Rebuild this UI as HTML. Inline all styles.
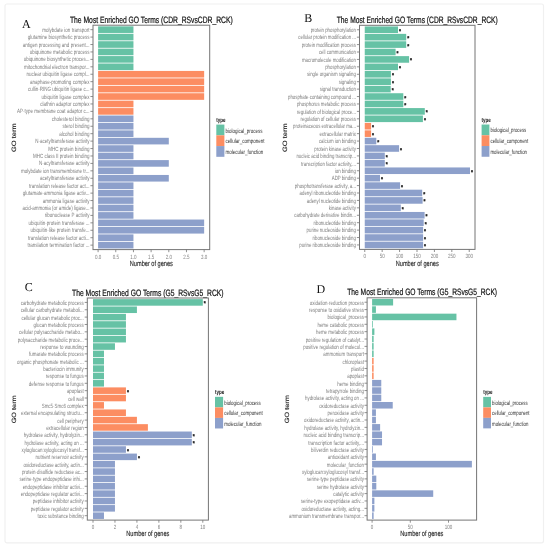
<!DOCTYPE html>
<html><head><meta charset="utf-8"><title>The Most Enriched GO Terms</title>
<style>
html,body{margin:0;padding:0;background:#fff;}
svg{display:block;font-family:"Liberation Sans",sans-serif;text-rendering:geometricPrecision;filter:blur(0.3px);}
</style></head>
<body>
<svg width="550" height="549" viewBox="0 0 550 549">
<rect x="0" y="0" width="550" height="549" fill="#fff"/>
<rect x="5" y="4" width="538.5" height="538.8" rx="2" ry="2" fill="none" stroke="#f0f0f0" stroke-width="1.2"/>
<g id="panelA">
<text transform="translate(22.00 27.80) scale(1 1)" font-size="12" font-family="'Liberation Serif',serif" fill="#111">A</text>
<text transform="translate(151.35 22.70) scale(0.735 1)" font-size="9.2" text-anchor="middle" stroke="#111" stroke-width="0.22" fill="#111">The Most Enriched GO Terms (CDR_RSvsCDR_RCK)</text>
<rect x="98.10" y="26.35" width="35.35" height="6.61" fill="#66c2a5"/>
<line x1="90.40" x2="93.00" y1="29.66" y2="29.66" stroke="#757575" stroke-width="0.8"/>
<text transform="translate(89.40 31.71) scale(0.735 1)" font-size="6.13" text-anchor="end" fill="#808080">molybdate ion transport</text>
<rect x="98.10" y="33.78" width="35.35" height="6.61" fill="#66c2a5"/>
<line x1="90.40" x2="93.00" y1="37.09" y2="37.09" stroke="#757575" stroke-width="0.8"/>
<text transform="translate(89.40 39.14) scale(0.735 1)" font-size="6.13" text-anchor="end" fill="#808080">glutamine biosynthetic process</text>
<rect x="98.10" y="41.21" width="35.35" height="6.61" fill="#66c2a5"/>
<line x1="90.40" x2="93.00" y1="44.52" y2="44.52" stroke="#757575" stroke-width="0.8"/>
<text transform="translate(89.40 46.57) scale(0.735 1)" font-size="6.13" text-anchor="end" fill="#808080">antigen processing and present...</text>
<rect x="98.10" y="48.64" width="35.35" height="6.61" fill="#66c2a5"/>
<line x1="90.40" x2="93.00" y1="51.95" y2="51.95" stroke="#757575" stroke-width="0.8"/>
<text transform="translate(89.40 54.00) scale(0.735 1)" font-size="6.13" text-anchor="end" fill="#808080">ubiquinone metabolic process</text>
<rect x="98.10" y="56.07" width="35.35" height="6.61" fill="#66c2a5"/>
<line x1="90.40" x2="93.00" y1="59.38" y2="59.38" stroke="#757575" stroke-width="0.8"/>
<text transform="translate(89.40 61.43) scale(0.735 1)" font-size="6.13" text-anchor="end" fill="#808080">ubiquinone biosynthetic proces...</text>
<rect x="98.10" y="63.50" width="35.35" height="6.61" fill="#66c2a5"/>
<line x1="90.40" x2="93.00" y1="66.81" y2="66.81" stroke="#757575" stroke-width="0.8"/>
<text transform="translate(89.40 68.86) scale(0.735 1)" font-size="6.13" text-anchor="end" fill="#808080">mitochondrial electron transpor...</text>
<rect x="98.10" y="70.93" width="106.05" height="6.61" fill="#fc8d62"/>
<line x1="90.40" x2="93.00" y1="74.24" y2="74.24" stroke="#757575" stroke-width="0.8"/>
<text transform="translate(89.40 76.29) scale(0.735 1)" font-size="6.13" text-anchor="end" fill="#808080">nuclear ubiquitin ligase compl...</text>
<rect x="98.10" y="78.36" width="106.05" height="6.61" fill="#fc8d62"/>
<line x1="90.40" x2="93.00" y1="81.67" y2="81.67" stroke="#757575" stroke-width="0.8"/>
<text transform="translate(89.40 83.72) scale(0.735 1)" font-size="6.13" text-anchor="end" fill="#808080">anaphase-promoting complex</text>
<rect x="98.10" y="85.80" width="106.05" height="6.61" fill="#fc8d62"/>
<line x1="90.40" x2="93.00" y1="89.10" y2="89.10" stroke="#757575" stroke-width="0.8"/>
<text transform="translate(89.40 91.15) scale(0.735 1)" font-size="6.13" text-anchor="end" fill="#808080">cullin-RING ubiquitin ligase c...</text>
<rect x="98.10" y="93.23" width="106.05" height="6.61" fill="#fc8d62"/>
<line x1="90.40" x2="93.00" y1="96.53" y2="96.53" stroke="#757575" stroke-width="0.8"/>
<text transform="translate(89.40 98.58) scale(0.735 1)" font-size="6.13" text-anchor="end" fill="#808080">ubiquitin ligase complex</text>
<rect x="98.10" y="100.66" width="35.35" height="6.61" fill="#fc8d62"/>
<line x1="90.40" x2="93.00" y1="103.96" y2="103.96" stroke="#757575" stroke-width="0.8"/>
<text transform="translate(89.40 106.01) scale(0.735 1)" font-size="6.13" text-anchor="end" fill="#808080">clathrin adaptor complex</text>
<rect x="98.10" y="108.09" width="35.35" height="6.61" fill="#fc8d62"/>
<line x1="90.40" x2="93.00" y1="111.39" y2="111.39" stroke="#757575" stroke-width="0.8"/>
<text transform="translate(89.40 113.44) scale(0.735 1)" font-size="6.13" text-anchor="end" fill="#808080">AP-type membrane coat adaptor c...</text>
<rect x="98.10" y="115.52" width="35.35" height="6.61" fill="#8da0cb"/>
<line x1="90.40" x2="93.00" y1="118.82" y2="118.82" stroke="#757575" stroke-width="0.8"/>
<text transform="translate(89.40 120.87) scale(0.735 1)" font-size="6.13" text-anchor="end" fill="#808080">cholesterol binding</text>
<rect x="98.10" y="122.95" width="35.35" height="6.61" fill="#8da0cb"/>
<line x1="90.40" x2="93.00" y1="126.25" y2="126.25" stroke="#757575" stroke-width="0.8"/>
<text transform="translate(89.40 128.30) scale(0.735 1)" font-size="6.13" text-anchor="end" fill="#808080">sterol binding</text>
<rect x="98.10" y="130.38" width="35.35" height="6.61" fill="#8da0cb"/>
<line x1="90.40" x2="93.00" y1="133.68" y2="133.68" stroke="#757575" stroke-width="0.8"/>
<text transform="translate(89.40 135.73) scale(0.735 1)" font-size="6.13" text-anchor="end" fill="#808080">alcohol binding</text>
<rect x="98.10" y="137.81" width="70.70" height="6.61" fill="#8da0cb"/>
<line x1="90.40" x2="93.00" y1="141.12" y2="141.12" stroke="#757575" stroke-width="0.8"/>
<text transform="translate(89.40 143.17) scale(0.735 1)" font-size="6.13" text-anchor="end" fill="#808080">N-acetyltransferase activity</text>
<rect x="98.10" y="145.24" width="35.35" height="6.61" fill="#8da0cb"/>
<line x1="90.40" x2="93.00" y1="148.55" y2="148.55" stroke="#757575" stroke-width="0.8"/>
<text transform="translate(89.40 150.60) scale(0.735 1)" font-size="6.13" text-anchor="end" fill="#808080">MHC protein binding</text>
<rect x="98.10" y="152.67" width="35.35" height="6.61" fill="#8da0cb"/>
<line x1="90.40" x2="93.00" y1="155.98" y2="155.98" stroke="#757575" stroke-width="0.8"/>
<text transform="translate(89.40 158.03) scale(0.735 1)" font-size="6.13" text-anchor="end" fill="#808080">MHC class II protein binding</text>
<rect x="98.10" y="160.10" width="70.70" height="6.61" fill="#8da0cb"/>
<line x1="90.40" x2="93.00" y1="163.41" y2="163.41" stroke="#757575" stroke-width="0.8"/>
<text transform="translate(89.40 165.46) scale(0.735 1)" font-size="6.13" text-anchor="end" fill="#808080">N-acyltransferase activity</text>
<rect x="98.10" y="167.53" width="35.35" height="6.61" fill="#8da0cb"/>
<line x1="90.40" x2="93.00" y1="170.84" y2="170.84" stroke="#757575" stroke-width="0.8"/>
<text transform="translate(89.40 172.89) scale(0.735 1)" font-size="6.13" text-anchor="end" fill="#808080">molybdate ion transmembrane tr...</text>
<rect x="98.10" y="174.96" width="70.70" height="6.61" fill="#8da0cb"/>
<line x1="90.40" x2="93.00" y1="178.27" y2="178.27" stroke="#757575" stroke-width="0.8"/>
<text transform="translate(89.40 180.32) scale(0.735 1)" font-size="6.13" text-anchor="end" fill="#808080">acetyltransferase activity</text>
<rect x="98.10" y="182.39" width="35.35" height="6.61" fill="#8da0cb"/>
<line x1="90.40" x2="93.00" y1="185.70" y2="185.70" stroke="#757575" stroke-width="0.8"/>
<text transform="translate(89.40 187.75) scale(0.735 1)" font-size="6.13" text-anchor="end" fill="#808080">translation release factor act...</text>
<rect x="98.10" y="189.82" width="35.35" height="6.61" fill="#8da0cb"/>
<line x1="90.40" x2="93.00" y1="193.13" y2="193.13" stroke="#757575" stroke-width="0.8"/>
<text transform="translate(89.40 195.18) scale(0.735 1)" font-size="6.13" text-anchor="end" fill="#808080">glutamate-ammonia ligase activ...</text>
<rect x="98.10" y="197.25" width="35.35" height="6.61" fill="#8da0cb"/>
<line x1="90.40" x2="93.00" y1="200.56" y2="200.56" stroke="#757575" stroke-width="0.8"/>
<text transform="translate(89.40 202.61) scale(0.735 1)" font-size="6.13" text-anchor="end" fill="#808080">ammonia ligase activity</text>
<rect x="98.10" y="204.68" width="35.35" height="6.61" fill="#8da0cb"/>
<line x1="90.40" x2="93.00" y1="207.99" y2="207.99" stroke="#757575" stroke-width="0.8"/>
<text transform="translate(89.40 210.04) scale(0.735 1)" font-size="6.13" text-anchor="end" fill="#808080">acid-ammonia (or amide) ligase...</text>
<rect x="98.10" y="212.11" width="35.35" height="6.61" fill="#8da0cb"/>
<line x1="90.40" x2="93.00" y1="215.42" y2="215.42" stroke="#757575" stroke-width="0.8"/>
<text transform="translate(89.40 217.47) scale(0.735 1)" font-size="6.13" text-anchor="end" fill="#808080">ribonuclease P activity</text>
<rect x="98.10" y="219.54" width="106.05" height="6.61" fill="#8da0cb"/>
<line x1="90.40" x2="93.00" y1="222.85" y2="222.85" stroke="#757575" stroke-width="0.8"/>
<text transform="translate(89.40 224.90) scale(0.735 1)" font-size="6.13" text-anchor="end" fill="#808080">ubiquitin-protein transferase ...</text>
<rect x="98.10" y="226.97" width="106.05" height="6.61" fill="#8da0cb"/>
<line x1="90.40" x2="93.00" y1="230.28" y2="230.28" stroke="#757575" stroke-width="0.8"/>
<text transform="translate(89.40 232.33) scale(0.735 1)" font-size="6.13" text-anchor="end" fill="#808080">ubiquitin-like protein transfe...</text>
<rect x="98.10" y="234.40" width="35.35" height="6.61" fill="#8da0cb"/>
<line x1="90.40" x2="93.00" y1="237.71" y2="237.71" stroke="#757575" stroke-width="0.8"/>
<text transform="translate(89.40 239.76) scale(0.735 1)" font-size="6.13" text-anchor="end" fill="#808080">translation release factor acti...</text>
<rect x="98.10" y="241.84" width="35.35" height="6.61" fill="#8da0cb"/>
<line x1="90.40" x2="93.00" y1="245.14" y2="245.14" stroke="#757575" stroke-width="0.8"/>
<text transform="translate(89.40 247.19) scale(0.735 1)" font-size="6.13" text-anchor="end" fill="#808080">translation termination factor ...</text>
<rect x="93.00" y="25.20" width="116.70" height="224.40" fill="none" stroke="#757575" stroke-width="1"/>
<line x1="98.10" x2="98.10" y1="249.60" y2="252.20" stroke="#757575" stroke-width="0.8"/>
<text transform="translate(98.10 258.60) scale(0.735 1)" font-size="6.13" text-anchor="middle" fill="#808080">0.0</text>
<line x1="115.77" x2="115.77" y1="249.60" y2="252.20" stroke="#757575" stroke-width="0.8"/>
<text transform="translate(115.77 258.60) scale(0.735 1)" font-size="6.13" text-anchor="middle" fill="#808080">0.5</text>
<line x1="133.45" x2="133.45" y1="249.60" y2="252.20" stroke="#757575" stroke-width="0.8"/>
<text transform="translate(133.45 258.60) scale(0.735 1)" font-size="6.13" text-anchor="middle" fill="#808080">1.0</text>
<line x1="151.12" x2="151.12" y1="249.60" y2="252.20" stroke="#757575" stroke-width="0.8"/>
<text transform="translate(151.12 258.60) scale(0.735 1)" font-size="6.13" text-anchor="middle" fill="#808080">1.5</text>
<line x1="168.80" x2="168.80" y1="249.60" y2="252.20" stroke="#757575" stroke-width="0.8"/>
<text transform="translate(168.80 258.60) scale(0.735 1)" font-size="6.13" text-anchor="middle" fill="#808080">2.0</text>
<line x1="186.47" x2="186.47" y1="249.60" y2="252.20" stroke="#757575" stroke-width="0.8"/>
<text transform="translate(186.47 258.60) scale(0.735 1)" font-size="6.13" text-anchor="middle" fill="#808080">2.5</text>
<line x1="204.15" x2="204.15" y1="249.60" y2="252.20" stroke="#757575" stroke-width="0.8"/>
<text transform="translate(204.15 258.60) scale(0.735 1)" font-size="6.13" text-anchor="middle" fill="#808080">3.0</text>
<text transform="translate(151.35 265.80) scale(0.735 1)" font-size="7.65" text-anchor="middle" stroke="#222" stroke-width="0.12" fill="#222">Number of genes</text>
<text transform="translate(15.70 137.70) scale(0.84 1) rotate(-90)" font-size="7.5" text-anchor="middle" stroke="#222" stroke-width="0.15" fill="#222">GO term</text>
<text transform="translate(216.30 122.47) scale(0.735 1)" font-size="6.13" font-weight="bold" fill="#111">type</text>
<rect x="216.30" y="124.57" width="8.1" height="10.75" fill="#66c2a5"/>
<text transform="translate(225.50 132.54) scale(0.735 1)" font-size="6.13" fill="#333">biological_process</text>
<rect x="216.30" y="135.32" width="8.1" height="10.75" fill="#fc8d62"/>
<text transform="translate(225.50 143.29) scale(0.735 1)" font-size="6.13" fill="#333">cellular_component</text>
<rect x="216.30" y="146.07" width="8.1" height="10.75" fill="#8da0cb"/>
<text transform="translate(225.50 154.04) scale(0.735 1)" font-size="6.13" fill="#333">molecular_function</text>
</g>
<g id="panelB">
<text transform="translate(304.20 21.90) scale(1 1)" font-size="12" font-family="'Liberation Serif',serif" fill="#111">B</text>
<text transform="translate(417.25 22.80) scale(0.727 1)" font-size="9.2" text-anchor="middle" stroke="#111" stroke-width="0.22" fill="#111">The Most Enriched GO Terms (CDR_RSvsCDR_RCK)</text>
<rect x="364.75" y="26.45" width="33.25" height="6.60" fill="#66c2a5"/>
<line x1="356.90" x2="359.50" y1="29.75" y2="29.75" stroke="#757575" stroke-width="0.8"/>
<text transform="translate(355.90 31.95) scale(0.71 1)" font-size="6.13" text-anchor="end" fill="#808080">protein phosphorylation</text>
<text transform="translate(400.00 32.80) scale(0.9 1)" font-size="5.6" text-anchor="middle" font-weight="bold" stroke="#111" stroke-width="0.3" fill="#111">*</text>
<rect x="364.75" y="33.87" width="41.45" height="6.60" fill="#66c2a5"/>
<line x1="356.90" x2="359.50" y1="37.17" y2="37.17" stroke="#757575" stroke-width="0.8"/>
<text transform="translate(355.90 39.37) scale(0.71 1)" font-size="6.13" text-anchor="end" fill="#808080">cellular protein modification ...</text>
<text transform="translate(408.20 40.22) scale(0.9 1)" font-size="5.6" text-anchor="middle" font-weight="bold" stroke="#111" stroke-width="0.3" fill="#111">*</text>
<rect x="364.75" y="41.29" width="41.45" height="6.60" fill="#66c2a5"/>
<line x1="356.90" x2="359.50" y1="44.59" y2="44.59" stroke="#757575" stroke-width="0.8"/>
<text transform="translate(355.90 46.79) scale(0.71 1)" font-size="6.13" text-anchor="end" fill="#808080">protein modification process</text>
<text transform="translate(408.20 47.64) scale(0.9 1)" font-size="5.6" text-anchor="middle" font-weight="bold" stroke="#111" stroke-width="0.3" fill="#111">*</text>
<rect x="364.75" y="48.71" width="30.85" height="6.60" fill="#66c2a5"/>
<line x1="356.90" x2="359.50" y1="52.01" y2="52.01" stroke="#757575" stroke-width="0.8"/>
<text transform="translate(355.90 54.21) scale(0.71 1)" font-size="6.13" text-anchor="end" fill="#808080">cell communication</text>
<text transform="translate(397.60 55.06) scale(0.9 1)" font-size="5.6" text-anchor="middle" font-weight="bold" stroke="#111" stroke-width="0.3" fill="#111">*</text>
<rect x="364.75" y="56.13" width="44.35" height="6.60" fill="#66c2a5"/>
<line x1="356.90" x2="359.50" y1="59.43" y2="59.43" stroke="#757575" stroke-width="0.8"/>
<text transform="translate(355.90 61.63) scale(0.71 1)" font-size="6.13" text-anchor="end" fill="#808080">macromolecule modification</text>
<text transform="translate(411.10 62.48) scale(0.9 1)" font-size="5.6" text-anchor="middle" font-weight="bold" stroke="#111" stroke-width="0.3" fill="#111">*</text>
<rect x="364.75" y="63.55" width="33.25" height="6.60" fill="#66c2a5"/>
<line x1="356.90" x2="359.50" y1="66.85" y2="66.85" stroke="#757575" stroke-width="0.8"/>
<text transform="translate(355.90 69.05) scale(0.71 1)" font-size="6.13" text-anchor="end" fill="#808080">phosphorylation</text>
<text transform="translate(400.00 69.90) scale(0.9 1)" font-size="5.6" text-anchor="middle" font-weight="bold" stroke="#111" stroke-width="0.3" fill="#111">*</text>
<rect x="364.75" y="70.97" width="26.15" height="6.60" fill="#66c2a5"/>
<line x1="356.90" x2="359.50" y1="74.28" y2="74.28" stroke="#757575" stroke-width="0.8"/>
<text transform="translate(355.90 76.48) scale(0.71 1)" font-size="6.13" text-anchor="end" fill="#808080">single organism signaling</text>
<text transform="translate(392.90 77.33) scale(0.9 1)" font-size="5.6" text-anchor="middle" font-weight="bold" stroke="#111" stroke-width="0.3" fill="#111">*</text>
<rect x="364.75" y="78.39" width="26.15" height="6.60" fill="#66c2a5"/>
<line x1="356.90" x2="359.50" y1="81.70" y2="81.70" stroke="#757575" stroke-width="0.8"/>
<text transform="translate(355.90 83.90) scale(0.71 1)" font-size="6.13" text-anchor="end" fill="#808080">signaling</text>
<text transform="translate(392.90 84.75) scale(0.9 1)" font-size="5.6" text-anchor="middle" font-weight="bold" stroke="#111" stroke-width="0.3" fill="#111">*</text>
<rect x="364.75" y="85.81" width="25.95" height="6.60" fill="#66c2a5"/>
<line x1="356.90" x2="359.50" y1="89.12" y2="89.12" stroke="#757575" stroke-width="0.8"/>
<text transform="translate(355.90 91.32) scale(0.71 1)" font-size="6.13" text-anchor="end" fill="#808080">signal transduction</text>
<text transform="translate(392.70 92.17) scale(0.9 1)" font-size="5.6" text-anchor="middle" font-weight="bold" stroke="#111" stroke-width="0.3" fill="#111">*</text>
<rect x="364.75" y="93.23" width="38.55" height="6.60" fill="#66c2a5"/>
<line x1="356.90" x2="359.50" y1="96.54" y2="96.54" stroke="#757575" stroke-width="0.8"/>
<text transform="translate(355.90 98.74) scale(0.71 1)" font-size="6.13" text-anchor="end" fill="#808080">phosphate-containing compound ...</text>
<text transform="translate(405.30 99.59) scale(0.9 1)" font-size="5.6" text-anchor="middle" font-weight="bold" stroke="#111" stroke-width="0.3" fill="#111">*</text>
<rect x="364.75" y="100.66" width="38.55" height="6.60" fill="#66c2a5"/>
<line x1="356.90" x2="359.50" y1="103.96" y2="103.96" stroke="#757575" stroke-width="0.8"/>
<text transform="translate(355.90 106.16) scale(0.71 1)" font-size="6.13" text-anchor="end" fill="#808080">phosphorus metabolic process</text>
<text transform="translate(405.30 107.01) scale(0.9 1)" font-size="5.6" text-anchor="middle" font-weight="bold" stroke="#111" stroke-width="0.3" fill="#111">*</text>
<rect x="364.75" y="108.08" width="60.05" height="6.60" fill="#66c2a5"/>
<line x1="356.90" x2="359.50" y1="111.38" y2="111.38" stroke="#757575" stroke-width="0.8"/>
<text transform="translate(355.90 113.58) scale(0.71 1)" font-size="6.13" text-anchor="end" fill="#808080">regulation of biological proce...</text>
<text transform="translate(426.80 114.43) scale(0.9 1)" font-size="5.6" text-anchor="middle" font-weight="bold" stroke="#111" stroke-width="0.3" fill="#111">*</text>
<rect x="364.75" y="115.50" width="58.15" height="6.60" fill="#66c2a5"/>
<line x1="356.90" x2="359.50" y1="118.80" y2="118.80" stroke="#757575" stroke-width="0.8"/>
<text transform="translate(355.90 121.00) scale(0.71 1)" font-size="6.13" text-anchor="end" fill="#808080">regulation of cellular process</text>
<text transform="translate(424.90 121.85) scale(0.9 1)" font-size="5.6" text-anchor="middle" font-weight="bold" stroke="#111" stroke-width="0.3" fill="#111">*</text>
<rect x="364.75" y="122.92" width="6.35" height="6.60" fill="#fc8d62"/>
<line x1="356.90" x2="359.50" y1="126.22" y2="126.22" stroke="#757575" stroke-width="0.8"/>
<text transform="translate(355.90 128.42) scale(0.71 1)" font-size="6.13" text-anchor="end" fill="#808080">proteinaceous extracellular ma...</text>
<text transform="translate(373.10 129.27) scale(0.9 1)" font-size="5.6" text-anchor="middle" font-weight="bold" stroke="#111" stroke-width="0.3" fill="#111">*</text>
<rect x="364.75" y="130.34" width="6.35" height="6.60" fill="#fc8d62"/>
<line x1="356.90" x2="359.50" y1="133.64" y2="133.64" stroke="#757575" stroke-width="0.8"/>
<text transform="translate(355.90 135.84) scale(0.71 1)" font-size="6.13" text-anchor="end" fill="#808080">extracellular matrix</text>
<text transform="translate(373.10 136.69) scale(0.9 1)" font-size="5.6" text-anchor="middle" font-weight="bold" stroke="#111" stroke-width="0.3" fill="#111">*</text>
<rect x="364.75" y="137.76" width="11.55" height="6.60" fill="#8da0cb"/>
<line x1="356.90" x2="359.50" y1="141.06" y2="141.06" stroke="#757575" stroke-width="0.8"/>
<text transform="translate(355.90 143.26) scale(0.71 1)" font-size="6.13" text-anchor="end" fill="#808080">calcium ion binding</text>
<text transform="translate(378.30 144.11) scale(0.9 1)" font-size="5.6" text-anchor="middle" font-weight="bold" stroke="#111" stroke-width="0.3" fill="#111">*</text>
<rect x="364.75" y="145.18" width="34.35" height="6.60" fill="#8da0cb"/>
<line x1="356.90" x2="359.50" y1="148.48" y2="148.48" stroke="#757575" stroke-width="0.8"/>
<text transform="translate(355.90 150.68) scale(0.71 1)" font-size="6.13" text-anchor="end" fill="#808080">protein kinase activity</text>
<text transform="translate(401.10 151.53) scale(0.9 1)" font-size="5.6" text-anchor="middle" font-weight="bold" stroke="#111" stroke-width="0.3" fill="#111">*</text>
<rect x="364.75" y="152.60" width="20.05" height="6.60" fill="#8da0cb"/>
<line x1="356.90" x2="359.50" y1="155.90" y2="155.90" stroke="#757575" stroke-width="0.8"/>
<text transform="translate(355.90 158.10) scale(0.71 1)" font-size="6.13" text-anchor="end" fill="#808080">nucleic acid binding transcrip...</text>
<text transform="translate(386.80 158.95) scale(0.9 1)" font-size="5.6" text-anchor="middle" font-weight="bold" stroke="#111" stroke-width="0.3" fill="#111">*</text>
<rect x="364.75" y="160.02" width="20.05" height="6.60" fill="#8da0cb"/>
<line x1="356.90" x2="359.50" y1="163.32" y2="163.32" stroke="#757575" stroke-width="0.8"/>
<text transform="translate(355.90 165.52) scale(0.71 1)" font-size="6.13" text-anchor="end" fill="#808080">transcription factor activity,...</text>
<text transform="translate(386.80 166.37) scale(0.9 1)" font-size="5.6" text-anchor="middle" font-weight="bold" stroke="#111" stroke-width="0.3" fill="#111">*</text>
<rect x="364.75" y="167.44" width="105.25" height="6.60" fill="#8da0cb"/>
<line x1="356.90" x2="359.50" y1="170.74" y2="170.74" stroke="#757575" stroke-width="0.8"/>
<text transform="translate(355.90 172.94) scale(0.71 1)" font-size="6.13" text-anchor="end" fill="#808080">ion binding</text>
<text transform="translate(472.00 173.79) scale(0.9 1)" font-size="5.6" text-anchor="middle" font-weight="bold" stroke="#111" stroke-width="0.3" fill="#111">*</text>
<rect x="364.75" y="174.86" width="15.25" height="6.60" fill="#8da0cb"/>
<line x1="356.90" x2="359.50" y1="178.16" y2="178.16" stroke="#757575" stroke-width="0.8"/>
<text transform="translate(355.90 180.36) scale(0.71 1)" font-size="6.13" text-anchor="end" fill="#808080">ADP binding</text>
<text transform="translate(382.00 181.21) scale(0.9 1)" font-size="5.6" text-anchor="middle" font-weight="bold" stroke="#111" stroke-width="0.3" fill="#111">*</text>
<rect x="364.75" y="182.28" width="35.35" height="6.60" fill="#8da0cb"/>
<line x1="356.90" x2="359.50" y1="185.58" y2="185.58" stroke="#757575" stroke-width="0.8"/>
<text transform="translate(355.90 187.78) scale(0.71 1)" font-size="6.13" text-anchor="end" fill="#808080">phosphotransferase activity, a...</text>
<text transform="translate(402.10 188.63) scale(0.9 1)" font-size="5.6" text-anchor="middle" font-weight="bold" stroke="#111" stroke-width="0.3" fill="#111">*</text>
<rect x="364.75" y="189.70" width="57.45" height="6.60" fill="#8da0cb"/>
<line x1="356.90" x2="359.50" y1="193.00" y2="193.00" stroke="#757575" stroke-width="0.8"/>
<text transform="translate(355.90 195.20) scale(0.71 1)" font-size="6.13" text-anchor="end" fill="#808080">adenyl ribonucleotide binding</text>
<text transform="translate(424.20 196.05) scale(0.9 1)" font-size="5.6" text-anchor="middle" font-weight="bold" stroke="#111" stroke-width="0.3" fill="#111">*</text>
<rect x="364.75" y="197.12" width="57.85" height="6.60" fill="#8da0cb"/>
<line x1="356.90" x2="359.50" y1="200.42" y2="200.42" stroke="#757575" stroke-width="0.8"/>
<text transform="translate(355.90 202.62) scale(0.71 1)" font-size="6.13" text-anchor="end" fill="#808080">adenyl nucleotide binding</text>
<text transform="translate(424.60 203.47) scale(0.9 1)" font-size="5.6" text-anchor="middle" font-weight="bold" stroke="#111" stroke-width="0.3" fill="#111">*</text>
<rect x="364.75" y="204.54" width="36.05" height="6.60" fill="#8da0cb"/>
<line x1="356.90" x2="359.50" y1="207.85" y2="207.85" stroke="#757575" stroke-width="0.8"/>
<text transform="translate(355.90 210.05) scale(0.71 1)" font-size="6.13" text-anchor="end" fill="#808080">kinase activity</text>
<text transform="translate(402.80 210.90) scale(0.9 1)" font-size="5.6" text-anchor="middle" font-weight="bold" stroke="#111" stroke-width="0.3" fill="#111">*</text>
<rect x="364.75" y="211.96" width="59.85" height="6.60" fill="#8da0cb"/>
<line x1="356.90" x2="359.50" y1="215.27" y2="215.27" stroke="#757575" stroke-width="0.8"/>
<text transform="translate(355.90 217.47) scale(0.71 1)" font-size="6.13" text-anchor="end" fill="#808080">carbohydrate derivative bindin...</text>
<text transform="translate(426.60 218.32) scale(0.9 1)" font-size="5.6" text-anchor="middle" font-weight="bold" stroke="#111" stroke-width="0.3" fill="#111">*</text>
<rect x="364.75" y="219.38" width="58.95" height="6.60" fill="#8da0cb"/>
<line x1="356.90" x2="359.50" y1="222.69" y2="222.69" stroke="#757575" stroke-width="0.8"/>
<text transform="translate(355.90 224.89) scale(0.71 1)" font-size="6.13" text-anchor="end" fill="#808080">ribonucleotide binding</text>
<text transform="translate(425.70 225.74) scale(0.9 1)" font-size="5.6" text-anchor="middle" font-weight="bold" stroke="#111" stroke-width="0.3" fill="#111">*</text>
<rect x="364.75" y="226.80" width="58.35" height="6.60" fill="#8da0cb"/>
<line x1="356.90" x2="359.50" y1="230.11" y2="230.11" stroke="#757575" stroke-width="0.8"/>
<text transform="translate(355.90 232.31) scale(0.71 1)" font-size="6.13" text-anchor="end" fill="#808080">purine nucleoside binding</text>
<text transform="translate(425.10 233.16) scale(0.9 1)" font-size="5.6" text-anchor="middle" font-weight="bold" stroke="#111" stroke-width="0.3" fill="#111">*</text>
<rect x="364.75" y="234.23" width="58.35" height="6.60" fill="#8da0cb"/>
<line x1="356.90" x2="359.50" y1="237.53" y2="237.53" stroke="#757575" stroke-width="0.8"/>
<text transform="translate(355.90 239.73) scale(0.71 1)" font-size="6.13" text-anchor="end" fill="#808080">ribonucleoside binding</text>
<text transform="translate(425.10 240.58) scale(0.9 1)" font-size="5.6" text-anchor="middle" font-weight="bold" stroke="#111" stroke-width="0.3" fill="#111">*</text>
<rect x="364.75" y="241.65" width="58.35" height="6.60" fill="#8da0cb"/>
<line x1="356.90" x2="359.50" y1="244.95" y2="244.95" stroke="#757575" stroke-width="0.8"/>
<text transform="translate(355.90 247.15) scale(0.71 1)" font-size="6.13" text-anchor="end" fill="#808080">purine ribonucleoside binding</text>
<text transform="translate(425.10 248.00) scale(0.9 1)" font-size="5.6" text-anchor="middle" font-weight="bold" stroke="#111" stroke-width="0.3" fill="#111">*</text>
<rect x="359.50" y="25.30" width="115.50" height="224.10" fill="none" stroke="#757575" stroke-width="1"/>
<line x1="364.75" x2="364.75" y1="249.40" y2="252.00" stroke="#757575" stroke-width="0.8"/>
<text transform="translate(364.75 258.40) scale(0.735 1)" font-size="6.13" text-anchor="middle" fill="#808080">0</text>
<line x1="382.17" x2="382.17" y1="249.40" y2="252.00" stroke="#757575" stroke-width="0.8"/>
<text transform="translate(382.17 258.40) scale(0.735 1)" font-size="6.13" text-anchor="middle" fill="#808080">50</text>
<line x1="399.58" x2="399.58" y1="249.40" y2="252.00" stroke="#757575" stroke-width="0.8"/>
<text transform="translate(399.58 258.40) scale(0.735 1)" font-size="6.13" text-anchor="middle" fill="#808080">100</text>
<line x1="417.00" x2="417.00" y1="249.40" y2="252.00" stroke="#757575" stroke-width="0.8"/>
<text transform="translate(417.00 258.40) scale(0.735 1)" font-size="6.13" text-anchor="middle" fill="#808080">150</text>
<line x1="434.41" x2="434.41" y1="249.40" y2="252.00" stroke="#757575" stroke-width="0.8"/>
<text transform="translate(434.41 258.40) scale(0.735 1)" font-size="6.13" text-anchor="middle" fill="#808080">200</text>
<line x1="451.82" x2="451.82" y1="249.40" y2="252.00" stroke="#757575" stroke-width="0.8"/>
<text transform="translate(451.82 258.40) scale(0.735 1)" font-size="6.13" text-anchor="middle" fill="#808080">250</text>
<line x1="469.24" x2="469.24" y1="249.40" y2="252.00" stroke="#757575" stroke-width="0.8"/>
<text transform="translate(469.24 258.40) scale(0.735 1)" font-size="6.13" text-anchor="middle" fill="#808080">300</text>
<text transform="translate(417.25 265.60) scale(0.735 1)" font-size="7.65" text-anchor="middle" stroke="#222" stroke-width="0.12" fill="#222">Number of genes</text>
<text transform="translate(286.55 137.65) scale(0.84 1) rotate(-90)" font-size="7.5" text-anchor="middle" stroke="#222" stroke-width="0.15" fill="#222">GO term</text>
<text transform="translate(481.60 122.42) scale(0.735 1)" font-size="6.13" font-weight="bold" fill="#111">type</text>
<rect x="481.60" y="124.52" width="7.8" height="10.75" fill="#66c2a5"/>
<text transform="translate(490.50 132.49) scale(0.71 1)" font-size="6.13" fill="#333">biological_process</text>
<rect x="481.60" y="135.27" width="7.8" height="10.75" fill="#fc8d62"/>
<text transform="translate(490.50 143.24) scale(0.71 1)" font-size="6.13" fill="#333">cellular_component</text>
<rect x="481.60" y="146.02" width="7.8" height="10.75" fill="#8da0cb"/>
<text transform="translate(490.50 153.99) scale(0.71 1)" font-size="6.13" fill="#333">molecular_function</text>
</g>
<g id="panelC">
<text transform="translate(24.70 291.00) scale(1 1)" font-size="12" font-family="'Liberation Serif',serif" fill="#111">C</text>
<text transform="translate(147.85 295.50) scale(0.735 1)" font-size="9.2" text-anchor="middle" stroke="#111" stroke-width="0.22" fill="#111">The Most Enriched GO Terms (G5_RSvsG5_RCK)</text>
<rect x="93.00" y="299.14" width="109.80" height="6.55" fill="#66c2a5"/>
<line x1="84.70" x2="87.30" y1="302.41" y2="302.41" stroke="#757575" stroke-width="0.8"/>
<text transform="translate(83.70 304.91) scale(0.726 1)" font-size="6.13" text-anchor="end" fill="#808080">carbohydrate metabolic process</text>
<text transform="translate(204.80 305.46) scale(0.9 1)" font-size="5.6" text-anchor="middle" font-weight="bold" stroke="#111" stroke-width="0.3" fill="#111">*</text>
<rect x="93.00" y="306.49" width="43.92" height="6.55" fill="#66c2a5"/>
<line x1="84.70" x2="87.30" y1="309.77" y2="309.77" stroke="#757575" stroke-width="0.8"/>
<text transform="translate(83.70 312.27) scale(0.726 1)" font-size="6.13" text-anchor="end" fill="#808080">cellular carbohydrate metaboli...</text>
<rect x="93.00" y="313.85" width="32.94" height="6.55" fill="#66c2a5"/>
<line x1="84.70" x2="87.30" y1="317.12" y2="317.12" stroke="#757575" stroke-width="0.8"/>
<text transform="translate(83.70 319.62) scale(0.726 1)" font-size="6.13" text-anchor="end" fill="#808080">cellular glucan metabolic proc...</text>
<rect x="93.00" y="321.20" width="32.94" height="6.55" fill="#66c2a5"/>
<line x1="84.70" x2="87.30" y1="324.48" y2="324.48" stroke="#757575" stroke-width="0.8"/>
<text transform="translate(83.70 326.98) scale(0.726 1)" font-size="6.13" text-anchor="end" fill="#808080">glucan metabolic process</text>
<rect x="93.00" y="328.56" width="32.94" height="6.55" fill="#66c2a5"/>
<line x1="84.70" x2="87.30" y1="331.83" y2="331.83" stroke="#757575" stroke-width="0.8"/>
<text transform="translate(83.70 334.33) scale(0.726 1)" font-size="6.13" text-anchor="end" fill="#808080">cellular polysaccharide metabo...</text>
<rect x="93.00" y="335.91" width="32.94" height="6.55" fill="#66c2a5"/>
<line x1="84.70" x2="87.30" y1="339.18" y2="339.18" stroke="#757575" stroke-width="0.8"/>
<text transform="translate(83.70 341.68) scale(0.726 1)" font-size="6.13" text-anchor="end" fill="#808080">polysaccharide metabolic proce...</text>
<rect x="93.00" y="343.27" width="21.96" height="6.55" fill="#66c2a5"/>
<line x1="84.70" x2="87.30" y1="346.54" y2="346.54" stroke="#757575" stroke-width="0.8"/>
<text transform="translate(83.70 349.04) scale(0.726 1)" font-size="6.13" text-anchor="end" fill="#808080">response to wounding</text>
<rect x="93.00" y="350.62" width="10.98" height="6.55" fill="#66c2a5"/>
<line x1="84.70" x2="87.30" y1="353.89" y2="353.89" stroke="#757575" stroke-width="0.8"/>
<text transform="translate(83.70 356.39) scale(0.726 1)" font-size="6.13" text-anchor="end" fill="#808080">fumarate metabolic process</text>
<rect x="93.00" y="357.97" width="10.98" height="6.55" fill="#66c2a5"/>
<line x1="84.70" x2="87.30" y1="361.25" y2="361.25" stroke="#757575" stroke-width="0.8"/>
<text transform="translate(83.70 363.75) scale(0.726 1)" font-size="6.13" text-anchor="end" fill="#808080">organic phosphonate metabolic ...</text>
<rect x="93.00" y="365.33" width="10.98" height="6.55" fill="#66c2a5"/>
<line x1="84.70" x2="87.30" y1="368.60" y2="368.60" stroke="#757575" stroke-width="0.8"/>
<text transform="translate(83.70 371.10) scale(0.726 1)" font-size="6.13" text-anchor="end" fill="#808080">bacteriocin immunity</text>
<rect x="93.00" y="372.68" width="10.98" height="6.55" fill="#66c2a5"/>
<line x1="84.70" x2="87.30" y1="375.96" y2="375.96" stroke="#757575" stroke-width="0.8"/>
<text transform="translate(83.70 378.46) scale(0.726 1)" font-size="6.13" text-anchor="end" fill="#808080">response to fungus</text>
<rect x="93.00" y="380.04" width="10.98" height="6.55" fill="#66c2a5"/>
<line x1="84.70" x2="87.30" y1="383.31" y2="383.31" stroke="#757575" stroke-width="0.8"/>
<text transform="translate(83.70 385.81) scale(0.726 1)" font-size="6.13" text-anchor="end" fill="#808080">defense response to fungus</text>
<rect x="93.00" y="387.39" width="32.94" height="6.55" fill="#fc8d62"/>
<line x1="84.70" x2="87.30" y1="390.66" y2="390.66" stroke="#757575" stroke-width="0.8"/>
<text transform="translate(83.70 393.16) scale(0.726 1)" font-size="6.13" text-anchor="end" fill="#808080">apoplast</text>
<text transform="translate(127.94 393.71) scale(0.9 1)" font-size="5.6" text-anchor="middle" font-weight="bold" stroke="#111" stroke-width="0.3" fill="#111">*</text>
<rect x="93.00" y="394.75" width="32.94" height="6.55" fill="#fc8d62"/>
<line x1="84.70" x2="87.30" y1="398.02" y2="398.02" stroke="#757575" stroke-width="0.8"/>
<text transform="translate(83.70 400.52) scale(0.726 1)" font-size="6.13" text-anchor="end" fill="#808080">cell wall</text>
<rect x="93.00" y="402.10" width="10.98" height="6.55" fill="#fc8d62"/>
<line x1="84.70" x2="87.30" y1="405.37" y2="405.37" stroke="#757575" stroke-width="0.8"/>
<text transform="translate(83.70 407.87) scale(0.726 1)" font-size="6.13" text-anchor="end" fill="#808080">Smc5-Smc6 complex</text>
<rect x="93.00" y="409.45" width="32.94" height="6.55" fill="#fc8d62"/>
<line x1="84.70" x2="87.30" y1="412.73" y2="412.73" stroke="#757575" stroke-width="0.8"/>
<text transform="translate(83.70 415.23) scale(0.726 1)" font-size="6.13" text-anchor="end" fill="#808080">external encapsulating structu...</text>
<rect x="93.00" y="416.81" width="43.92" height="6.55" fill="#fc8d62"/>
<line x1="84.70" x2="87.30" y1="420.08" y2="420.08" stroke="#757575" stroke-width="0.8"/>
<text transform="translate(83.70 422.58) scale(0.726 1)" font-size="6.13" text-anchor="end" fill="#808080">cell periphery</text>
<rect x="93.00" y="424.16" width="54.90" height="6.55" fill="#fc8d62"/>
<line x1="84.70" x2="87.30" y1="427.44" y2="427.44" stroke="#757575" stroke-width="0.8"/>
<text transform="translate(83.70 429.94) scale(0.726 1)" font-size="6.13" text-anchor="end" fill="#808080">extracellular region</text>
<rect x="93.00" y="431.52" width="98.82" height="6.55" fill="#8da0cb"/>
<line x1="84.70" x2="87.30" y1="434.79" y2="434.79" stroke="#757575" stroke-width="0.8"/>
<text transform="translate(83.70 437.29) scale(0.726 1)" font-size="6.13" text-anchor="end" fill="#808080">hydrolase activity, hydrolyzin...</text>
<text transform="translate(193.82 437.84) scale(0.9 1)" font-size="5.6" text-anchor="middle" font-weight="bold" stroke="#111" stroke-width="0.3" fill="#111">*</text>
<rect x="93.00" y="438.87" width="98.82" height="6.55" fill="#8da0cb"/>
<line x1="84.70" x2="87.30" y1="442.14" y2="442.14" stroke="#757575" stroke-width="0.8"/>
<text transform="translate(83.70 444.64) scale(0.726 1)" font-size="6.13" text-anchor="end" fill="#808080">hydrolase activity, acting on ...</text>
<text transform="translate(193.82 445.19) scale(0.9 1)" font-size="5.6" text-anchor="middle" font-weight="bold" stroke="#111" stroke-width="0.3" fill="#111">*</text>
<rect x="93.00" y="446.23" width="32.94" height="6.55" fill="#8da0cb"/>
<line x1="84.70" x2="87.30" y1="449.50" y2="449.50" stroke="#757575" stroke-width="0.8"/>
<text transform="translate(83.70 452.00) scale(0.726 1)" font-size="6.13" text-anchor="end" fill="#808080">xyloglucan:xyloglucosyl transf...</text>
<text transform="translate(127.94 452.55) scale(0.9 1)" font-size="5.6" text-anchor="middle" font-weight="bold" stroke="#111" stroke-width="0.3" fill="#111">*</text>
<rect x="93.00" y="453.58" width="43.92" height="6.55" fill="#8da0cb"/>
<line x1="84.70" x2="87.30" y1="456.85" y2="456.85" stroke="#757575" stroke-width="0.8"/>
<text transform="translate(83.70 459.35) scale(0.726 1)" font-size="6.13" text-anchor="end" fill="#808080">nutrient reservoir activity</text>
<text transform="translate(138.92 459.90) scale(0.9 1)" font-size="5.6" text-anchor="middle" font-weight="bold" stroke="#111" stroke-width="0.3" fill="#111">*</text>
<rect x="93.00" y="460.93" width="21.96" height="6.55" fill="#8da0cb"/>
<line x1="84.70" x2="87.30" y1="464.21" y2="464.21" stroke="#757575" stroke-width="0.8"/>
<text transform="translate(83.70 466.71) scale(0.726 1)" font-size="6.13" text-anchor="end" fill="#808080">oxidoreductase activity, actin...</text>
<rect x="93.00" y="468.29" width="21.96" height="6.55" fill="#8da0cb"/>
<line x1="84.70" x2="87.30" y1="471.56" y2="471.56" stroke="#757575" stroke-width="0.8"/>
<text transform="translate(83.70 474.06) scale(0.726 1)" font-size="6.13" text-anchor="end" fill="#808080">protein-disulfide reductase ac...</text>
<rect x="93.00" y="475.64" width="21.96" height="6.55" fill="#8da0cb"/>
<line x1="84.70" x2="87.30" y1="478.92" y2="478.92" stroke="#757575" stroke-width="0.8"/>
<text transform="translate(83.70 481.42) scale(0.726 1)" font-size="6.13" text-anchor="end" fill="#808080">serine-type endopeptidase inhi...</text>
<rect x="93.00" y="483.00" width="21.96" height="6.55" fill="#8da0cb"/>
<line x1="84.70" x2="87.30" y1="486.27" y2="486.27" stroke="#757575" stroke-width="0.8"/>
<text transform="translate(83.70 488.77) scale(0.726 1)" font-size="6.13" text-anchor="end" fill="#808080">endopeptidase inhibitor activi...</text>
<rect x="93.00" y="490.35" width="21.96" height="6.55" fill="#8da0cb"/>
<line x1="84.70" x2="87.30" y1="493.62" y2="493.62" stroke="#757575" stroke-width="0.8"/>
<text transform="translate(83.70 496.12) scale(0.726 1)" font-size="6.13" text-anchor="end" fill="#808080">endopeptidase regulator activi...</text>
<rect x="93.00" y="497.71" width="21.96" height="6.55" fill="#8da0cb"/>
<line x1="84.70" x2="87.30" y1="500.98" y2="500.98" stroke="#757575" stroke-width="0.8"/>
<text transform="translate(83.70 503.48) scale(0.726 1)" font-size="6.13" text-anchor="end" fill="#808080">peptidase inhibitor activity</text>
<rect x="93.00" y="505.06" width="21.96" height="6.55" fill="#8da0cb"/>
<line x1="84.70" x2="87.30" y1="508.33" y2="508.33" stroke="#757575" stroke-width="0.8"/>
<text transform="translate(83.70 510.83) scale(0.726 1)" font-size="6.13" text-anchor="end" fill="#808080">peptidase regulator activity</text>
<rect x="93.00" y="512.41" width="10.98" height="6.55" fill="#8da0cb"/>
<line x1="84.70" x2="87.30" y1="515.69" y2="515.69" stroke="#757575" stroke-width="0.8"/>
<text transform="translate(83.70 518.19) scale(0.726 1)" font-size="6.13" text-anchor="end" fill="#808080">toxic substance binding</text>
<rect x="87.30" y="298.00" width="121.10" height="222.10" fill="none" stroke="#757575" stroke-width="1"/>
<line x1="93.00" x2="93.00" y1="520.10" y2="522.70" stroke="#757575" stroke-width="0.8"/>
<text transform="translate(93.00 529.10) scale(0.735 1)" font-size="6.13" text-anchor="middle" fill="#808080">0</text>
<line x1="114.96" x2="114.96" y1="520.10" y2="522.70" stroke="#757575" stroke-width="0.8"/>
<text transform="translate(114.96 529.10) scale(0.735 1)" font-size="6.13" text-anchor="middle" fill="#808080">2</text>
<line x1="136.92" x2="136.92" y1="520.10" y2="522.70" stroke="#757575" stroke-width="0.8"/>
<text transform="translate(136.92 529.10) scale(0.735 1)" font-size="6.13" text-anchor="middle" fill="#808080">4</text>
<line x1="158.88" x2="158.88" y1="520.10" y2="522.70" stroke="#757575" stroke-width="0.8"/>
<text transform="translate(158.88 529.10) scale(0.735 1)" font-size="6.13" text-anchor="middle" fill="#808080">6</text>
<line x1="180.84" x2="180.84" y1="520.10" y2="522.70" stroke="#757575" stroke-width="0.8"/>
<text transform="translate(180.84 529.10) scale(0.735 1)" font-size="6.13" text-anchor="middle" fill="#808080">8</text>
<line x1="202.80" x2="202.80" y1="520.10" y2="522.70" stroke="#757575" stroke-width="0.8"/>
<text transform="translate(202.80 529.10) scale(0.735 1)" font-size="6.13" text-anchor="middle" fill="#808080">10</text>
<text transform="translate(147.85 536.30) scale(0.735 1)" font-size="7.65" text-anchor="middle" stroke="#222" stroke-width="0.12" fill="#222">Number of genes</text>
<text transform="translate(15.65 409.35) scale(0.84 1) rotate(-90)" font-size="7.3" text-anchor="middle" stroke="#222" stroke-width="0.15" fill="#222">GO term</text>
<text transform="translate(215.00 394.32) scale(0.735 1)" font-size="6.13" font-weight="bold" fill="#111">type</text>
<rect x="215.00" y="396.82" width="8.1" height="10.55" fill="#66c2a5"/>
<text transform="translate(224.20 404.70) scale(0.726 1)" font-size="6.13" fill="#333">biological_process</text>
<rect x="215.00" y="407.37" width="8.1" height="10.55" fill="#fc8d62"/>
<text transform="translate(224.20 415.25) scale(0.726 1)" font-size="6.13" fill="#333">cellular_component</text>
<rect x="215.00" y="417.92" width="8.1" height="10.55" fill="#8da0cb"/>
<text transform="translate(224.20 425.80) scale(0.726 1)" font-size="6.13" fill="#333">molecular_function</text>
</g>
<g id="panelD">
<text transform="translate(316.60 293.00) scale(1 1)" font-size="12" font-family="'Liberation Serif',serif" fill="#111">D</text>
<text transform="translate(422.15 295.30) scale(0.727 1)" font-size="9.2" text-anchor="middle" stroke="#111" stroke-width="0.22" fill="#111">The Most Enriched GO Terms (G5_RSvsG5_RCK)</text>
<rect x="372.10" y="298.94" width="21.01" height="6.55" fill="#66c2a5"/>
<line x1="364.50" x2="367.10" y1="302.22" y2="302.22" stroke="#757575" stroke-width="0.8"/>
<text transform="translate(363.90 304.72) scale(0.722 1)" font-size="6.13" text-anchor="end" fill="#808080">oxidation-reduction process</text>
<rect x="372.10" y="306.30" width="3.82" height="6.55" fill="#66c2a5"/>
<line x1="364.50" x2="367.10" y1="309.58" y2="309.58" stroke="#757575" stroke-width="0.8"/>
<text transform="translate(363.90 312.08) scale(0.722 1)" font-size="6.13" text-anchor="end" fill="#808080">response to oxidative stress</text>
<rect x="372.10" y="313.66" width="84.35" height="6.55" fill="#66c2a5"/>
<line x1="364.50" x2="367.10" y1="316.94" y2="316.94" stroke="#757575" stroke-width="0.8"/>
<text transform="translate(363.90 319.44) scale(0.722 1)" font-size="6.13" text-anchor="end" fill="#808080">biological_process</text>
<rect x="372.10" y="321.02" width="0.76" height="6.55" fill="#66c2a5"/>
<line x1="364.50" x2="367.10" y1="324.30" y2="324.30" stroke="#757575" stroke-width="0.8"/>
<text transform="translate(363.90 326.80) scale(0.722 1)" font-size="6.13" text-anchor="end" fill="#808080">heme catabolic process</text>
<rect x="372.10" y="328.38" width="2.29" height="6.55" fill="#66c2a5"/>
<line x1="364.50" x2="367.10" y1="331.66" y2="331.66" stroke="#757575" stroke-width="0.8"/>
<text transform="translate(363.90 334.16) scale(0.722 1)" font-size="6.13" text-anchor="end" fill="#808080">heme metabolic process</text>
<rect x="372.10" y="335.75" width="1.53" height="6.55" fill="#66c2a5"/>
<line x1="364.50" x2="367.10" y1="339.02" y2="339.02" stroke="#757575" stroke-width="0.8"/>
<text transform="translate(363.90 341.52) scale(0.722 1)" font-size="6.13" text-anchor="end" fill="#808080">positive regulation of catalyt...</text>
<rect x="372.10" y="343.11" width="1.53" height="6.55" fill="#66c2a5"/>
<line x1="364.50" x2="367.10" y1="346.38" y2="346.38" stroke="#757575" stroke-width="0.8"/>
<text transform="translate(363.90 348.88) scale(0.722 1)" font-size="6.13" text-anchor="end" fill="#808080">positive regulation of molecul...</text>
<rect x="372.10" y="350.47" width="1.53" height="6.55" fill="#66c2a5"/>
<line x1="364.50" x2="367.10" y1="353.74" y2="353.74" stroke="#757575" stroke-width="0.8"/>
<text transform="translate(363.90 356.24) scale(0.722 1)" font-size="6.13" text-anchor="end" fill="#808080">ammonium transport</text>
<rect x="372.10" y="357.83" width="1.53" height="6.55" fill="#fc8d62"/>
<line x1="364.50" x2="367.10" y1="361.10" y2="361.10" stroke="#757575" stroke-width="0.8"/>
<text transform="translate(363.90 363.60) scale(0.722 1)" font-size="6.13" text-anchor="end" fill="#808080">chloroplast</text>
<rect x="372.10" y="365.19" width="1.53" height="6.55" fill="#fc8d62"/>
<line x1="364.50" x2="367.10" y1="368.46" y2="368.46" stroke="#757575" stroke-width="0.8"/>
<text transform="translate(363.90 370.96) scale(0.722 1)" font-size="6.13" text-anchor="end" fill="#808080">plastid</text>
<rect x="372.10" y="372.55" width="1.53" height="6.55" fill="#fc8d62"/>
<line x1="364.50" x2="367.10" y1="375.83" y2="375.83" stroke="#757575" stroke-width="0.8"/>
<text transform="translate(363.90 378.33) scale(0.722 1)" font-size="6.13" text-anchor="end" fill="#808080">apoplast</text>
<rect x="372.10" y="379.91" width="9.17" height="6.55" fill="#8da0cb"/>
<line x1="364.50" x2="367.10" y1="383.19" y2="383.19" stroke="#757575" stroke-width="0.8"/>
<text transform="translate(363.90 385.69) scale(0.722 1)" font-size="6.13" text-anchor="end" fill="#808080">heme binding</text>
<rect x="372.10" y="387.27" width="9.17" height="6.55" fill="#8da0cb"/>
<line x1="364.50" x2="367.10" y1="390.55" y2="390.55" stroke="#757575" stroke-width="0.8"/>
<text transform="translate(363.90 393.05) scale(0.722 1)" font-size="6.13" text-anchor="end" fill="#808080">tetrapyrrole binding</text>
<rect x="372.10" y="394.63" width="9.17" height="6.55" fill="#8da0cb"/>
<line x1="364.50" x2="367.10" y1="397.91" y2="397.91" stroke="#757575" stroke-width="0.8"/>
<text transform="translate(363.90 400.41) scale(0.722 1)" font-size="6.13" text-anchor="end" fill="#808080">hydrolase activity, acting on ...</text>
<rect x="372.10" y="401.99" width="20.63" height="6.55" fill="#8da0cb"/>
<line x1="364.50" x2="367.10" y1="405.27" y2="405.27" stroke="#757575" stroke-width="0.8"/>
<text transform="translate(363.90 407.77) scale(0.722 1)" font-size="6.13" text-anchor="end" fill="#808080">oxidoreductase activity</text>
<rect x="372.10" y="409.35" width="3.82" height="6.55" fill="#8da0cb"/>
<line x1="364.50" x2="367.10" y1="412.63" y2="412.63" stroke="#757575" stroke-width="0.8"/>
<text transform="translate(363.90 415.13) scale(0.722 1)" font-size="6.13" text-anchor="end" fill="#808080">peroxidase activity</text>
<rect x="372.10" y="416.72" width="3.82" height="6.55" fill="#8da0cb"/>
<line x1="364.50" x2="367.10" y1="419.99" y2="419.99" stroke="#757575" stroke-width="0.8"/>
<text transform="translate(363.90 422.49) scale(0.722 1)" font-size="6.13" text-anchor="end" fill="#808080">oxidoreductase activity, actin...</text>
<rect x="372.10" y="424.08" width="8.02" height="6.55" fill="#8da0cb"/>
<line x1="364.50" x2="367.10" y1="427.35" y2="427.35" stroke="#757575" stroke-width="0.8"/>
<text transform="translate(363.90 429.85) scale(0.722 1)" font-size="6.13" text-anchor="end" fill="#808080">hydrolase activity, hydrolyzin...</text>
<rect x="372.10" y="431.44" width="9.93" height="6.55" fill="#8da0cb"/>
<line x1="364.50" x2="367.10" y1="434.71" y2="434.71" stroke="#757575" stroke-width="0.8"/>
<text transform="translate(363.90 437.21) scale(0.722 1)" font-size="6.13" text-anchor="end" fill="#808080">nucleic acid binding transcrip...</text>
<rect x="372.10" y="438.80" width="9.93" height="6.55" fill="#8da0cb"/>
<line x1="364.50" x2="367.10" y1="442.07" y2="442.07" stroke="#757575" stroke-width="0.8"/>
<text transform="translate(363.90 444.57) scale(0.722 1)" font-size="6.13" text-anchor="end" fill="#808080">transcription factor activity,...</text>
<rect x="372.10" y="446.16" width="0.76" height="6.55" fill="#8da0cb"/>
<line x1="364.50" x2="367.10" y1="449.44" y2="449.44" stroke="#757575" stroke-width="0.8"/>
<text transform="translate(363.90 451.94) scale(0.722 1)" font-size="6.13" text-anchor="end" fill="#808080">biliverdin reductase activity</text>
<rect x="372.10" y="453.52" width="3.82" height="6.55" fill="#8da0cb"/>
<line x1="364.50" x2="367.10" y1="456.80" y2="456.80" stroke="#757575" stroke-width="0.8"/>
<text transform="translate(363.90 459.30) scale(0.722 1)" font-size="6.13" text-anchor="end" fill="#808080">antioxidant activity</text>
<rect x="372.10" y="460.88" width="99.78" height="6.55" fill="#8da0cb"/>
<line x1="364.50" x2="367.10" y1="464.16" y2="464.16" stroke="#757575" stroke-width="0.8"/>
<text transform="translate(363.90 466.66) scale(0.722 1)" font-size="6.13" text-anchor="end" fill="#808080">molecular_function</text>
<rect x="372.10" y="468.24" width="1.53" height="6.55" fill="#8da0cb"/>
<line x1="364.50" x2="367.10" y1="471.52" y2="471.52" stroke="#757575" stroke-width="0.8"/>
<text transform="translate(363.90 474.02) scale(0.722 1)" font-size="6.13" text-anchor="end" fill="#808080">xyloglucan:xyloglucosyl transf...</text>
<rect x="372.10" y="475.60" width="4.20" height="6.55" fill="#8da0cb"/>
<line x1="364.50" x2="367.10" y1="478.88" y2="478.88" stroke="#757575" stroke-width="0.8"/>
<text transform="translate(363.90 481.38) scale(0.722 1)" font-size="6.13" text-anchor="end" fill="#808080">serine-type peptidase activity</text>
<rect x="372.10" y="482.96" width="4.20" height="6.55" fill="#8da0cb"/>
<line x1="364.50" x2="367.10" y1="486.24" y2="486.24" stroke="#757575" stroke-width="0.8"/>
<text transform="translate(363.90 488.74) scale(0.722 1)" font-size="6.13" text-anchor="end" fill="#808080">serine hydrolase activity</text>
<rect x="372.10" y="490.33" width="61.12" height="6.55" fill="#8da0cb"/>
<line x1="364.50" x2="367.10" y1="493.60" y2="493.60" stroke="#757575" stroke-width="0.8"/>
<text transform="translate(363.90 496.10) scale(0.722 1)" font-size="6.13" text-anchor="end" fill="#808080">catalytic activity</text>
<rect x="372.10" y="497.69" width="2.29" height="6.55" fill="#8da0cb"/>
<line x1="364.50" x2="367.10" y1="500.96" y2="500.96" stroke="#757575" stroke-width="0.8"/>
<text transform="translate(363.90 503.46) scale(0.722 1)" font-size="6.13" text-anchor="end" fill="#808080">serine-type exopeptidase activ...</text>
<rect x="372.10" y="505.05" width="2.29" height="6.55" fill="#8da0cb"/>
<line x1="364.50" x2="367.10" y1="508.32" y2="508.32" stroke="#757575" stroke-width="0.8"/>
<text transform="translate(363.90 510.82) scale(0.722 1)" font-size="6.13" text-anchor="end" fill="#808080">oxidoreductase activity, acting...</text>
<rect x="372.10" y="512.41" width="1.53" height="6.55" fill="#8da0cb"/>
<line x1="364.50" x2="367.10" y1="515.68" y2="515.68" stroke="#757575" stroke-width="0.8"/>
<text transform="translate(363.90 518.18) scale(0.722 1)" font-size="6.13" text-anchor="end" fill="#808080">ammonium transmembrane transpor...</text>
<rect x="367.10" y="297.80" width="109.50" height="222.30" fill="none" stroke="#757575" stroke-width="1"/>
<line x1="372.10" x2="372.10" y1="520.10" y2="522.70" stroke="#757575" stroke-width="0.8"/>
<text transform="translate(372.10 529.10) scale(0.735 1)" font-size="6.13" text-anchor="middle" fill="#808080">0</text>
<line x1="410.30" x2="410.30" y1="520.10" y2="522.70" stroke="#757575" stroke-width="0.8"/>
<text transform="translate(410.30 529.10) scale(0.735 1)" font-size="6.13" text-anchor="middle" fill="#808080">50</text>
<line x1="448.50" x2="448.50" y1="520.10" y2="522.70" stroke="#757575" stroke-width="0.8"/>
<text transform="translate(448.50 529.10) scale(0.735 1)" font-size="6.13" text-anchor="middle" fill="#808080">100</text>
<text transform="translate(421.85 536.30) scale(0.735 1)" font-size="7.65" text-anchor="middle" stroke="#222" stroke-width="0.12" fill="#222">Number of genes</text>
<text transform="translate(288.70 409.25) scale(0.84 1) rotate(-90)" font-size="7.3" text-anchor="middle" stroke="#222" stroke-width="0.15" fill="#222">GO term</text>
<text transform="translate(483.20 394.07) scale(0.735 1)" font-size="6.13" font-weight="bold" fill="#111">type</text>
<rect x="483.20" y="396.87" width="7.8" height="10.5" fill="#66c2a5"/>
<text transform="translate(492.10 404.72) scale(0.705 1)" font-size="6.13" fill="#333">biological_process</text>
<rect x="483.20" y="407.37" width="7.8" height="10.5" fill="#fc8d62"/>
<text transform="translate(492.10 415.22) scale(0.705 1)" font-size="6.13" fill="#333">cellular_component</text>
<rect x="483.20" y="417.87" width="7.8" height="10.5" fill="#8da0cb"/>
<text transform="translate(492.10 425.72) scale(0.705 1)" font-size="6.13" fill="#333">molecular_function</text>
</g>
</svg>
</body></html>
